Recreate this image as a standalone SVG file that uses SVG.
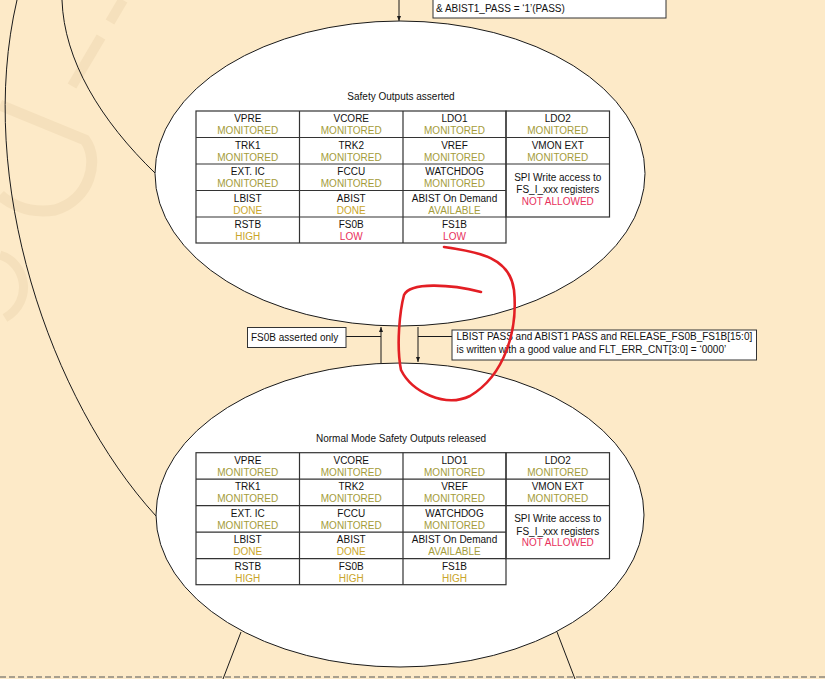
<svg xmlns="http://www.w3.org/2000/svg" width="825" height="679" viewBox="0 0 825 679">
<style>
.bg{fill:#FDEAC8}
.wm{fill:none;stroke:#F5E0BC;stroke-linecap:butt}
.state{fill:#FFFFFF;stroke:#1A1A1A;stroke-width:1}
.grid{fill:none;stroke:#333333;stroke-width:1.2}
.conn{fill:none;stroke:#1A1A1A;stroke-width:1}
.lbl{fill:#FFFFFF;stroke:#333333;stroke-width:1}
text{font-family:"Liberation Sans",Arial,sans-serif;font-size:10px;fill:#111111}
.c{text-anchor:middle}
.mon{fill:#A49C3A}
.done{fill:#C9A52A}
.low{fill:#E8305C}
.red{fill:none;stroke:#E31E24;stroke-width:2.6;stroke-linecap:round;stroke-linejoin:round}
</style>
<defs>
<marker id="ah" viewBox="0 0 10 10" refX="10" refY="5" markerWidth="5" markerHeight="5" orient="auto" markerUnits="userSpaceOnUse">
<path d="M0,1 L10,5 L0,9 Z" fill="#1A1A1A"/>
</marker>
</defs>
<rect class="bg" x="0" y="0" width="825" height="679"/>
<g id="watermark">
<path class="wm" stroke-width="10" d="M72 86 L101 37"/>
<path class="wm" stroke-width="10" d="M110 22 L123 0"/>
<path class="wm" stroke-width="11" d="M0 105 L85 140 C100 160 90 200 55 210 C25 215 5 200 0 195"/>
<path class="wm" stroke-width="9" d="M0 255 C25 262 35 300 5 318"/>
</g>
<g id="connectors">
<path class="conn" d="M62 0 C64 60 100 120 156 174"/>
<path class="conn" d="M17 0 C-25 180 50 400 156 516"/>
<line class="conn" x1="399" y1="0" x2="399" y2="21" marker-end="url(#ah)"/>
<line class="conn" x1="381" y1="363" x2="381" y2="327" marker-end="url(#ah)"/>
<line class="conn" x1="418" y1="327" x2="418" y2="362" marker-end="url(#ah)"/>
<line class="conn" x1="346" y1="336.5" x2="381" y2="336.5"/>
<line class="conn" x1="418" y1="336.5" x2="452" y2="336.5"/>
<line class="conn" x1="241" y1="632" x2="223" y2="679"/>
<line class="conn" x1="557" y1="632" x2="575" y2="679"/>
<line x1="0" y1="677" x2="825" y2="677" stroke="#555555" stroke-width="1.2" stroke-dasharray="6,3"/>
</g>
<g id="label-top">
<rect class="lbl" x="433" y="-10" width="233" height="28"/>
<text x="436" y="12">&amp; ABIST1_PASS = ‘1’(PASS)</text>
</g>
<g id="label-fs0b">
<rect class="lbl" x="247.5" y="327.5" width="98.5" height="20"/>
<text x="251" y="341">FS0B asserted only</text>
</g>
<g id="label-release">
<rect class="lbl" x="452" y="330" width="304.5" height="30"/>
<text x="456.5" y="340">LBIST PASS and ABIST1 PASS and RELEASE_FS0B_FS1B[15:0]</text>
<text x="456.5" y="352.5">is written with a good value and FLT_ERR_CNT[3:0] = ‘0000’</text>
</g>
<g id="state-safety-asserted">
<ellipse class="state" cx="400" cy="173.5" rx="245" ry="152.5"/>
<text class="c" x="401" y="100">Safety Outputs asserted</text>
<g id="table-asserted">
<rect class="grid" x="196" y="111" width="310" height="132"/>
<rect class="grid" x="506" y="111" width="103.5" height="106"/>
<path class="grid" d="M196 137.5H609.5M196 164H609.5M196 190.5H506M196 217H506M299.5 111V243M403 111V243"/>
<text class="c" x="247.75" y="122">VPRE</text><text class="c mon" x="247.75" y="134">MONITORED</text>
<text class="c" x="351.25" y="122">VCORE</text><text class="c mon" x="351.25" y="134">MONITORED</text>
<text class="c" x="454.5" y="122">LDO1</text><text class="c mon" x="454.5" y="134">MONITORED</text>
<text class="c" x="557.75" y="122">LDO2</text><text class="c mon" x="557.75" y="134">MONITORED</text>
<text class="c" x="247.75" y="148.5">TRK1</text><text class="c mon" x="247.75" y="160.5">MONITORED</text>
<text class="c" x="351.25" y="148.5">TRK2</text><text class="c mon" x="351.25" y="160.5">MONITORED</text>
<text class="c" x="454.5" y="148.5">VREF</text><text class="c mon" x="454.5" y="160.5">MONITORED</text>
<text class="c" x="557.75" y="148.5">VMON EXT</text><text class="c mon" x="557.75" y="160.5">MONITORED</text>
<text class="c" x="247.75" y="175">EXT. IC</text><text class="c mon" x="247.75" y="187">MONITORED</text>
<text class="c" x="351.25" y="175">FCCU</text><text class="c mon" x="351.25" y="187">MONITORED</text>
<text class="c" x="454.5" y="175">WATCHDOG</text><text class="c mon" x="454.5" y="187">MONITORED</text>
<text class="c" x="557.75" y="180.5">SPI Write access to</text>
<text class="c" x="557.75" y="193">FS_I_xxx registers</text>
<text class="c low" x="557.75" y="204.5">NOT ALLOWED</text>
<text class="c" x="247.75" y="201.5">LBIST</text><text class="c done" x="247.75" y="213.5">DONE</text>
<text class="c" x="351.25" y="201.5">ABIST</text><text class="c done" x="351.25" y="213.5">DONE</text>
<text class="c" x="454.5" y="201.5">ABIST On Demand</text><text class="c mon" x="454.5" y="213.5">AVAILABLE</text>
<text class="c" x="247.75" y="228">RSTB</text><text class="c done" x="247.75" y="240">HIGH</text>
<text class="c" x="351.25" y="228">FS0B</text><text class="c low" x="351.25" y="240">LOW</text>
<text class="c" x="454.5" y="228">FS1B</text><text class="c low" x="454.5" y="240">LOW</text>
</g>
</g>
<g id="state-normal-released">
<ellipse class="state" cx="400" cy="515" rx="244" ry="152"/>
<text class="c" x="401" y="442">Normal Mode Safety Outputs released</text>
<g id="table-released" transform="translate(0,341.7)">
<rect class="grid" x="196" y="111" width="310" height="132"/>
<rect class="grid" x="506" y="111" width="103.5" height="106"/>
<path class="grid" d="M196 137.5H609.5M196 164H609.5M196 190.5H506M196 217H506M299.5 111V243M403 111V243"/>
<text class="c" x="247.75" y="122">VPRE</text><text class="c mon" x="247.75" y="134">MONITORED</text>
<text class="c" x="351.25" y="122">VCORE</text><text class="c mon" x="351.25" y="134">MONITORED</text>
<text class="c" x="454.5" y="122">LDO1</text><text class="c mon" x="454.5" y="134">MONITORED</text>
<text class="c" x="557.75" y="122">LDO2</text><text class="c mon" x="557.75" y="134">MONITORED</text>
<text class="c" x="247.75" y="148.5">TRK1</text><text class="c mon" x="247.75" y="160.5">MONITORED</text>
<text class="c" x="351.25" y="148.5">TRK2</text><text class="c mon" x="351.25" y="160.5">MONITORED</text>
<text class="c" x="454.5" y="148.5">VREF</text><text class="c mon" x="454.5" y="160.5">MONITORED</text>
<text class="c" x="557.75" y="148.5">VMON EXT</text><text class="c mon" x="557.75" y="160.5">MONITORED</text>
<text class="c" x="247.75" y="175">EXT. IC</text><text class="c mon" x="247.75" y="187">MONITORED</text>
<text class="c" x="351.25" y="175">FCCU</text><text class="c mon" x="351.25" y="187">MONITORED</text>
<text class="c" x="454.5" y="175">WATCHDOG</text><text class="c mon" x="454.5" y="187">MONITORED</text>
<text class="c" x="557.75" y="180.5">SPI Write access to</text>
<text class="c" x="557.75" y="193">FS_I_xxx registers</text>
<text class="c low" x="557.75" y="204.5">NOT ALLOWED</text>
<text class="c" x="247.75" y="201.5">LBIST</text><text class="c done" x="247.75" y="213.5">DONE</text>
<text class="c" x="351.25" y="201.5">ABIST</text><text class="c done" x="351.25" y="213.5">DONE</text>
<text class="c" x="454.5" y="201.5">ABIST On Demand</text><text class="c mon" x="454.5" y="213.5">AVAILABLE</text>
<text class="c" x="247.75" y="228">RSTB</text><text class="c done" x="247.75" y="240">HIGH</text>
<text class="c" x="351.25" y="228">FS0B</text><text class="c done" x="351.25" y="240">HIGH</text>
<text class="c" x="454.5" y="228">FS1B</text><text class="c done" x="454.5" y="240">HIGH</text>
</g>
</g>
<g id="annotation">
<path class="red" d="M444 247 C480 252 510 258 514 290 C518 330 505 375 470 396 C445 408 412 392 401 370 C396 345 400 310 404 295 C410 282 450 284 481 292"/>
</g>
</svg>
